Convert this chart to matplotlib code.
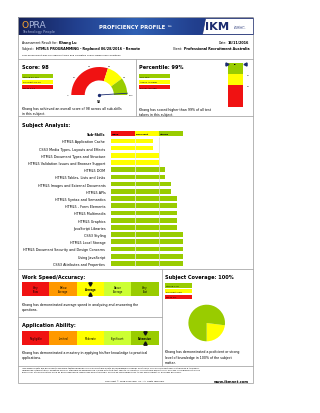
import numpy as np
import matplotlib.pyplot as plt
from matplotlib.patches import Rectangle, Wedge, Polygon
from matplotlib.colors import LinearSegmentedColormap

W, H = 320, 414

# ---- data ----
score = 98
score_bands = [60, 20, 20]                # weak / proficient / strong spans of the gauge
score_ticks = [0, 20, 40, 60, 80, 100]
score_legend = ["Strong 80-100", "Proficient 60-79", "Weak 0-59"]

percentile = 99
pct_bands = [50, 25, 25]                  # bottom half / above average / top 25
pct_ticks = [75, 50]
pct_legend = ["Top 25%", "Above Average", "Below Average"]

skills = ["HTML5 Application Cache", "CSS3 Media Types, Layouts and Effects",
          "HTML5 Document Types and Structure", "HTML5 Validation Issues and Browser Support",
          "HTML5 DOM", "HTML5 Tables, Lists and Links", "HTML5 Images and External Documents",
          "HTML5 APIs", "HTML5 Syntax and Semantics", "HTML5 - Form Elements",
          "HTML5 Multimedia", "HTML5 Graphics", "JavaScript Libraries", "CSS3 Styling",
          "HTML5 Local Storage", "HTML5 Document Security and Design Concerns",
          "Using JavaScript", "CSS3 Attributes and Properties"]
skill_scores = [58, 58, 67, 67, 75, 75, 83, 83, 92, 92, 92, 92, 92, 100, 100, 100, 100, 100]
skill_levels = ["Proficient"] * 4 + ["Strong"] * 14
bands = ["Weak", "Proficient", "Strong"]

speed_labels = ["Very\nSlow", "Below\nAverage", "Average", "Above\nAverage", "Very\nFast"]
speed_level = 2
ability_labels = ["Negligible", "Limited", "Moderate", "Significant", "Extensive"]
ability_level = 4

coverage = [77, 23, 0]
coverage_legend = ["Strong 77%", "Proficient 23%", "Weak 0%"]

RED, YEL, GRN = '#f01212', '#ffff00', '#99cc00'
ORA, LGR = '#ff9900', '#ccff33'
band_colors = {"Weak": RED, "Proficient": YEL, "Strong": GRN}
NAVY = '#1c2c70'
LINE = '#aaaaaa'
TITLE = 3.6
BODY = 2.35

fig = plt.figure(figsize=(3.2, 4.14), dpi=100)
base = fig.add_axes([0, 0, 1, 1])
base.set_xlim(0, W)
base.set_ylim(H, 0)
base.axis('off')
renderer = fig.canvas.get_renderer()


def sub_axes(x0, y0, x1, y1):
    return fig.add_axes([x0 / W, 1 - y1 / H, (x1 - x0) / W, (y1 - y0) / H])


def box(x0, y0, x1, y1, **kw):
    base.add_patch(Rectangle((x0, y0), x1 - x0, y1 - y0, **kw))


def hline(y, x0=18.3, x1=253):
    base.plot([x0, x1], [y, y], color=LINE, lw=0.6)


def vline(x, y0, y1):
    base.plot([x, x], [y0, y1], color=LINE, lw=0.6)


def txt(x, y, s, size=2.2, **kw):
    kw.setdefault('va', 'center')
    return base.text(x, y, s, fontsize=size, **kw)


def text_px_width(t):
    return t.get_window_extent(renderer).width   # figure px == base-axes units


def pair(x, y, a, b, right=False):
    # normal label followed by a bold value
    if not right:
        t = txt(x, y, a, 2.25)
        txt(x + text_px_width(t) + 1.2, y, b, 2.45, fontweight='bold')
    else:
        t = txt(x, y, b, 2.45, fontweight='bold', ha='right')
        txt(x - text_px_width(t) - 1.2, y, a, 2.25, ha='right')


# ---- header band ----
cmap = LinearSegmentedColormap.from_list('hdr', ['#15225a', '#22408f', '#2f60b4', '#22408f', '#1a2f78'])
base.imshow(np.linspace(0, 1, 200).reshape(1, -1), extent=(18.3, 253, 36, 18.3),
            aspect='auto', cmap=cmap, zorder=1)
base.add_patch(Polygon([[205, 19.3], [253, 19.3], [253, 35], [201.5, 35]], closed=True,
                       facecolor='white', edgecolor=NAVY, lw=0.5, zorder=2))
txt(21.5, 25.0, "O", 6.6, color='#f0a030', zorder=3)
txt(28.3, 25.0, "PRA", 6.6, color='#a9b6dc', zorder=3)
txt(22, 32.4, "Technology People", 2.5, color='#a9b6dc', zorder=3)
txt(135.5, 27.6, "PROFICIENCY PROFILE \u2122", 3.8, color='white', fontweight='bold',
    ha='center', zorder=3)
txt(204.5, 27.4, "IKM", 8.2, color=NAVY, fontweight='bold', zorder=3)
txt(234, 27.4, "International\nKnowledge\nMeasurement", 1.3, color=NAVY, zorder=3,
    linespacing=1.1)

base.set_xlim(0, W)
base.set_ylim(H, 0)

# ---- info lines ----
pair(22, 42.7, "Assessment Result for:", "Khang Lu")
pair(249.3, 42.7, "Date:", "16/11/2016", right=True)
pair(22, 49.3, "Subject:", "HTML5 PROGRAMMING - Replaced 06/28/2016 - Remote")
pair(249.3, 49.3, "Client:", "Professional Recruitment Australia", right=True)
txt(22, 55, "This assessment was self administered and validated under supervised conditions.", 1.7)

# ---- panel frame ----
box(18.3, 18.3, 253, 384.3, fill=False, edgecolor=LINE, lw=0.6)
hline(60.3)
vline(136, 60.3, 117.3)
hline(117.3)
hline(270)
vline(161.7, 270, 366.7)
hline(318.3, 18.3, 161.7)
hline(366.7)


def legend_boxes(x0, labels, colors):
    for i, (lab, c) in enumerate(zip(labels, colors)):
        y0 = 75.2 + i * 5.5
        box(x0, y0, x0 + 30.5, y0 + 3.9, facecolor=c, edgecolor='none')
        txt(x0 + 1.2, y0 + 2, lab, 1.6)


# ---- score panel ----
txt(22, 67.7, "Score: %d" % score, TITLE, fontweight='bold')
legend_boxes(22, score_legend, [GRN, YEL, RED])
base.text(22, 106.6, "Khang has achieved an overall score of %d across all sub-skills\nin this subject." % score,
          fontsize=BODY, va='top', linespacing=1.45)

gx = sub_axes(63.3, 60, 135.3, 106)
gx.set_xlim(-36 / 28, 36 / 28)
gx.set_ylim(-10 / 28, 36 / 28)
gx.axis('off')


def ang(v):
    return 180 - 1.8 * v


lo = 0
for span, c in zip(score_bands, [RED, YEL, GRN]):
    gx.add_patch(Wedge((0, 0), 1.0, ang(lo + span), ang(lo), width=0.48, facecolor=c, edgecolor='none'))
    lo += span
for t in score_ticks:
    a = np.radians(ang(t))
    gx.text(1.12 * np.cos(a), 1.12 * np.sin(a), str(t), fontsize=1.7, ha='center', va='center', color='#333333')
a = np.radians(ang(score))
gx.plot([0, 1.0 * np.cos(a)], [0, 1.0 * np.sin(a)], color=NAVY, lw=0.6)
gx.plot([0], [0], 'o', color=NAVY, ms=1.4)
gx.text(0, -0.22, str(score), fontsize=2.1, fontweight='bold', ha='center', va='center')

# ---- percentile panel ----
txt(139, 67.7, "Percentile: %d%%" % percentile, TITLE, fontweight='bold')
legend_boxes(139, pct_legend, [GRN, YEL, RED])
base.text(139, 107.6, "Khang has scored higher than %d%% of all test\ntakers in this subject." % percentile,
          fontsize=BODY, va='top', linespacing=1.45)

px = sub_axes(228, 64.4, 243, 108)
bottom = 0
for span, c in zip(pct_bands, [RED, YEL, GRN]):
    px.bar(0.5, span, width=1, bottom=bottom, color=c)
    bottom += span
px.set_xlim(0, 1)
px.set_ylim(0, 100)
px.axis('off')
px.plot([-0.1], [percentile], '>', color=NAVY, ms=2.2, clip_on=False)
px.plot([1.1], [percentile], '<', color=NAVY, ms=2.2, clip_on=False)
px.text(0.5, percentile, str(percentile), fontsize=1.4, ha='center', va='center', fontweight='bold')
for t in pct_ticks:
    px.text(1.25, t, str(t), fontsize=1.6, ha='left', va='center', color='#333333', clip_on=False)

# ---- subject analysis ----
txt(22, 125.7, "Subject Analysis:", TITLE, fontweight='bold')
n = len(skills)
bx = sub_axes(110.7, 131.1, 183.3, 268.0)
for j, b in enumerate(bands):
    bx.barh(-1, 100 / 3, left=j * 100 / 3, height=0.65, color=band_colors[b])
    bx.text(j * 100 / 3 + 1.5, -1, b, fontsize=1.7, fontweight='bold', va='center')
bx.barh(range(n), skill_scores, height=0.65, color=[band_colors[l] for l in skill_levels], zorder=2)
bx.vlines([100 / 3], -0.5, n - 0.5, color='#eeeeee', lw=0.5, zorder=3)
bx.vlines([200 / 3], -0.5, n - 0.5, color='#dddddd', lw=0.5, zorder=3)
bx.vlines([100], -0.5, n - 0.5, color='#cccccc', lw=0.5, zorder=1)
bx.set_xlim(0, 100)
bx.set_ylim(n - 0.5, -1.5)
bx.set_xticks([])
bx.set_yticks(range(-1, n), ["Sub-Skills"] + skills, fontsize=2.45)
bx.get_yticklabels()[0].set_fontweight('bold')
bx.tick_params(axis='y', length=0, pad=3.9)
for s in bx.spines.values():
    s.set_visible(False)


def level_row(y0, y1, labels, colors, level):
    ax = sub_axes(22, y0, 158.7, y1)
    for i, (lab, c) in enumerate(zip(labels, colors)):
        ax.barh(0.5, 1, left=i, height=1, color=c)
        ax.text(i + 0.5, 0.5, lab, fontsize=1.8, ha='center', va='center',
                fontweight='bold' if i == level else 'normal', linespacing=1.3)
    ax.plot([level + 0.5], [0.9], 'v', color='#111111', ms=2.4, clip_on=False)
    ax.plot([level + 0.5], [0.1], '^', color='#111111', ms=2.4, clip_on=False)
    ax.set_xlim(0, len(labels))
    ax.set_ylim(0, 1)
    ax.axis('off')


# ---- work speed ----
txt(22, 277.3, "Work Speed/Accuracy:", TITLE, fontweight='bold')
level_row(283.3, 296.7, speed_labels, [RED, ORA, YEL, LGR, GRN], speed_level)
base.text(22, 302.6, "Khang has demonstrated average speed in analyzing and answering the\nquestions.",
          fontsize=BODY, va='top', linespacing=1.45)

# ---- application ability ----
txt(22, 325.7, "Application Ability:", TITLE, fontweight='bold')
level_row(332.3, 345.7, ability_labels, [RED, ORA, YEL, LGR, GRN], ability_level)
base.text(22, 351.0, "Khang has demonstrated a mastery in applying his/her knowledge to practical\napplications.",
          fontsize=BODY, va='top', linespacing=1.45)

# ---- subject coverage ----
txt(165, 277.3, "Subject Coverage: %d%%" % (coverage[0] + coverage[1]), TITLE, fontweight='bold')
for i, (lab, c) in enumerate(zip(coverage_legend, [GRN, YEL, RED])):
    y0 = 284.3 + i * 5.7
    box(165, y0, 192.3, y0 + 4.3, facecolor=c, edgecolor='none')
    txt(166.2, y0 + 2.2, lab, 1.6)
cx = sub_axes(188.4, 305.7, 225, 342.3)
cx.pie(coverage[::-1], colors=[RED, YEL, GRN], startangle=270, counterclock=True, radius=1)
cx.set_xlim(-1, 1)
cx.set_ylim(-1, 1)
base.text(165, 350.3, "Khang has demonstrated a proficient or strong\nlevel of knowledge in 100% of the subject\nmatter.",
          fontsize=BODY, va='top', linespacing=1.45)

# ---- footer ----
foot = ("IKM assessments are designed to measure tested proficiency in a subject and depth of knowledge in specific sub-topics. "
        "This score report does not provide a tolerance-\nreferenced interpretation, adaptive score or standard of performance. "
        "Please note that test results, in isolation, are not pure predictors of success in employment or any\n"
        "given role. Other indicators, such as prior experience, references and interviews, should be considered prior to any "
        "employment or business decisions.")
base.text(22, 367.9, foot, fontsize=1.5, va='top', linespacing=1.45)
txt(135, 381.7, "Copyright \u00a9 1988-2016 IKM, Inc., All rights reserved.", 1.6, ha='center')
txt(249.3, 381.7, "www.ikmnet.com", 2.6, ha='right', fontweight='bold')

fig.savefig('out.png', dpi=100)
